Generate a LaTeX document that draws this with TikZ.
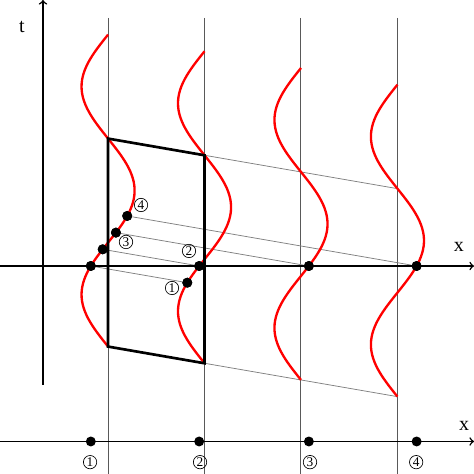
\documentclass[tikz,border=0pt]{standalone}
\usepackage{fontspec}
\setmainfont{Liberation Serif}
\usepackage{tikz}
\usetikzlibrary{calc}

\tikzset{
	dot/.style={circle, fill=black, inner sep=0pt, minimum size=2.1mm},
	circnum/.style={circle, draw, thin, inner sep=0.5pt, font=\footnotesize},
	wave/.style={red, line width=1.4pt},
	proj/.style={gray, line width=0.45pt},
	column/.style={black!65, line width=0.6pt}
}

\begin{document}
\begin{tikzpicture}
		\useasboundingbox (0,0) rectangle (10,10);
		% columns
		\foreach \k in {0,...,3}
			\draw[column] (2.28+\k*2.035,9.62) -- (2.28+\k*2.035,0);
		% corners of the box
		\coordinate (p1) at (2.28,7.076);
		\coordinate (p2) at (4.315,6.724);
		\coordinate (p3) at (4.315,2.336);
		\coordinate (p4) at (2.28,2.688);
		\coordinate (q2) at (8.385,6.020);
		\coordinate (q3) at (8.385,1.632);
		% the dots
		\node[dot] (a0) at (1.916,4.388) {};
		\node[dot] (a1) at (2.167,4.740) {};
		\node[dot] (a2) at (2.446,5.092) {};
		\node[dot] (a3) at (2.684,5.444) {};
		\node[dot] (b0) at (3.951,4.036) {};
		\node[dot] (b1) at (4.202,4.388) {};
		\node[dot] (c1) at (6.516,4.388) {};
		\node[dot] (d1) at (8.789,4.388) {};
		\draw[proj] (p2) -- (q2);
		\draw[proj] (p3) -- (q3);
		\draw[proj] (a0) -- (b0);
		\draw[proj] (a1) -- (b1);
		\draw[proj] (a2) -- (c1);
		\draw[proj] (a3) -- (d1);
		% waves
		\foreach \k in {0,...,3}
			\draw[wave] plot[variable=\s, domain=0:6.582, samples=90, smooth]
				({2.28+\k*2.035-0.56*sin(180*\s/2.194)}, {9.27-\k*0.352-\s});
		\draw[line width=1.6pt, line join=miter] (p1) -- (p2) -- (p3) -- (p4) -- cycle;
		% axes
		\draw[line width=0.9pt, ->] (0,4.388) -- (10,4.388);
		\draw[line width=0.9pt, ->] (0.907,1.88) -- (0.907,10);
		\draw[line width=0.9pt, ->] (0,0.686) -- (10,0.686);
		\node[font=\large] (tlab) at (0.46,9.43) {t};
		\node[font=\large] (xlab) at (9.68,4.80) {x};
		\node[font=\large] (xlab2) at (9.79,1.02) {x};
		% dots again on top
		\foreach \n in {a0,a1,a2,a3,b0,b1,c1,d1}
			\fill (\n) circle (1.05mm);
		\node[circnum] (n1) at (3.629,3.924) {1};
		\node[circnum] (n2) at (3.987,4.705) {2};
		\node[circnum] (n3) at (2.658,4.895) {3};
		\node[circnum] (n4) at (2.975,5.675) {4};
		% lower axis
		\node[dot] (e1) at (1.916,0.686) {};
		\node[dot] (e2) at (4.202,0.686) {};
		\node[dot] (e3) at (6.516,0.686) {};
		\node[dot] (e4) at (8.789,0.686) {};
		\node[circnum] (m1) at (1.90,0.25) {1};
		\node[circnum] (m2) at (4.22,0.25) {2};
		\node[circnum] (m3) at (6.54,0.25) {3};
		\node[circnum] (m4) at (8.78,0.25) {4};
	\end{tikzpicture}
\end{document}
